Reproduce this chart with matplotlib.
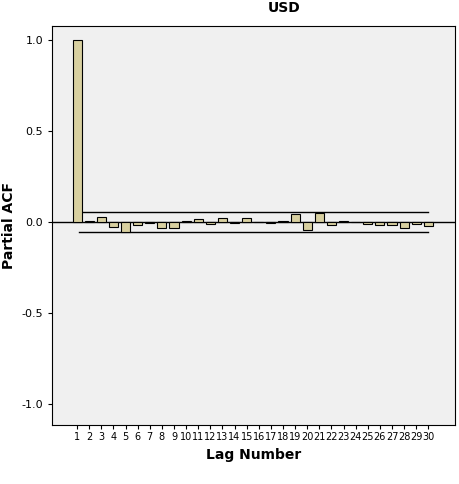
import numpy as np
import matplotlib.pyplot as plt

lags = np.arange(1, 31)
pacf = [1.0, 0.003, 0.03, -0.025, -0.055, -0.015, -0.005, -0.03, -0.035, 0.008,
        0.015, -0.01, 0.02, -0.005, 0.022, -0.002, -0.005, 0.008, 0.045, -0.045,
        0.05, -0.018, 0.004, 0.001, -0.01, -0.018, -0.015, -0.035, -0.01, -0.02]
conf = 0.055

fig = plt.figure(figsize=(4.59, 4.84), dpi=100)
ax = fig.add_axes([52/459, 1-425/484, 403/459, 399/484])
ax.set_facecolor('#f0f0f0')
ax.bar(lags, pacf, width=0.75, color='#d8d0a0', edgecolor='black', linewidth=0.8, zorder=3)
ax.axhline(0, color='black', linewidth=1, zorder=2)
ax.plot([1.2, 30], [conf, conf], color='black', linewidth=1, zorder=2)
ax.plot([1.2, 30], [-conf, -conf], color='black', linewidth=1, zorder=2)
ax.set_xlim(-1.07, 32.2)
ax.set_ylim(-1.115, 1.077)
ax.set_xticks(lags)
ax.set_xticklabels([str(l) for l in lags], fontsize=7)
ax.set_yticks([-1.0, -0.5, 0.0, 0.5, 1.0])
ax.set_yticklabels(['-1.0', '-0.5', '0.0', '0.5', '1.0'], fontsize=8)
ax.tick_params(axis='x', length=3, pad=2)
ax.tick_params(axis='y', length=3)
ax.set_xlabel('Lag Number', fontsize=10, fontweight='bold')
ax.set_ylabel('Partial ACF', fontsize=10, fontweight='bold')
fig.text(0.62, 0.983, 'USD', ha='center', va='center', fontsize=10, fontweight='bold')
fig.savefig('out.png', dpi=100)
